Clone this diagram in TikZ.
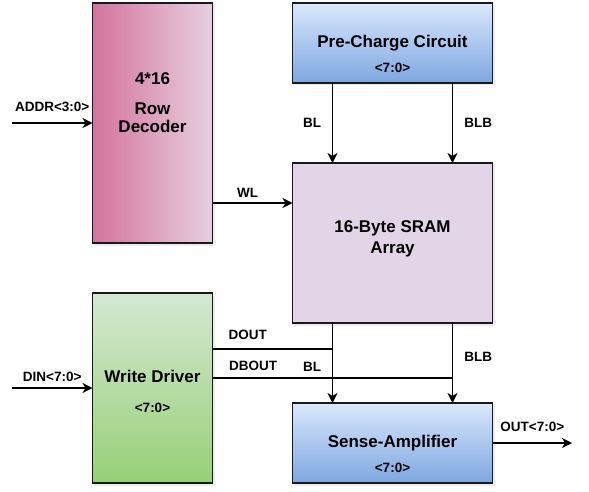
\documentclass[tikz,border=0pt]{standalone}
\usepackage{fontspec}
\setmainfont{Liberation Sans}
\usetikzlibrary{arrows.meta,positioning,shadows,calc}
\usepackage{xcolor}
\definecolor{pinkdark}{HTML}{D5739D}
\definecolor{pinklight}{HTML}{E6D0DE}
\definecolor{bluelight}{HTML}{DAE8FC}
\definecolor{bluedark}{HTML}{7EA6E0}
\definecolor{purplefill}{HTML}{E1D5E7}
\definecolor{greenlight}{HTML}{D5E8D4}
\definecolor{greendark}{HTML}{97D077}

\begin{document}
\begin{tikzpicture}[
            x=1pt, y=1pt,
            block/.style={rectangle, draw=black!90, line width=1.5pt, inner sep=0pt, outer sep=0pt,
                drop shadow={opacity=0.15, shadow xshift=2pt, shadow yshift=-2.5pt}},
            decblock/.style={block, left color=pinkdark, right color=pinklight, minimum width=120pt, minimum height=240pt},
            blueblock/.style={block, top color=bluelight, bottom color=bluedark, minimum width=200pt, minimum height=80pt},
            arrblock/.style={block, fill=purplefill, minimum width=200pt, minimum height=160pt},
            drvblock/.style={block, top color=greenlight, bottom color=greendark, minimum width=120pt, minimum height=190pt},
            title/.style={font=\fontsize{17}{18.5}\selectfont\bfseries, inner sep=0pt, align=center},
            sub/.style={font=\fontsize{13.5}{15}\selectfont\bfseries, inner sep=0pt},
            lbl/.style={font=\fontsize{13.5}{15}\selectfont\bfseries, inner sep=0pt},
            sig/.style={line width=1.6pt, -{Stealth[length=10pt, width=10pt, inset=3pt]}},
            wire/.style={line width=1.6pt}
        ]
            \useasboundingbox (0,0) rectangle (589,-492);

            % --- BLOCOS ---
            \node[decblock, anchor=north west] (decoder) at (92.5,-3) {};
            \node[blueblock, below right=0pt and 80pt of decoder.north east] (precharge) {};
            \node[arrblock, below=80pt of precharge] (sram) {};
            \node[drvblock, below=50pt of decoder] (writedrv) {};
            \node[blueblock, below=80pt of sram] (senseamp) {};

            % --- TEXTOS ---
            \node[title] (decodertext) at ([yshift=20.5pt]decoder.center) {4*16\\[11.5pt]Row\\Decoder};
            \node[title] (prechargetext) at (precharge.center) {Pre-Charge Circuit};
            \node[sub] (prechargebits) at ([yshift=-25.3pt]precharge.center) {<7:0>};
            \node[title] (sramtext) at ([yshift=4.6pt]sram.center) {16-Byte SRAM\\[2.5pt]Array};
            \node[title] (writedrvtext) at ([yshift=11.3pt]writedrv.center) {Write Driver};
            \node[sub] (writedrvbits) at ([yshift=-20.3pt]writedrv.center) {<7:0>};
            \node[title] (senseamptext) at (senseamp.center) {Sense-Amplifier};
            \node[sub] (senseampbits) at ([yshift=-25.3pt]senseamp.center) {<7:0>};

            % --- PONTOS DE LIGACAO ---
            \coordinate (addrin) at ([xshift=-80.5pt]decoder.west);
            \coordinate (wl) at ([yshift=40pt]decoder.south east);
            \coordinate (bltop) at ($(precharge.south west)!0.2!(precharge.south east)$);
            \coordinate (blbtop) at ($(precharge.south west)!0.8!(precharge.south east)$);
            \coordinate (blbot) at ($(sram.south west)!0.2!(sram.south east)$);
            \coordinate (blbbot) at ($(sram.south west)!0.8!(sram.south east)$);
            \coordinate (dout) at ([yshift=-56pt]writedrv.north east);
            \coordinate (dbout) at ([yshift=-85pt]writedrv.north east);
            \coordinate (dinin) at ([xshift=-80.5pt]writedrv.west);
            \coordinate (outend) at ([xshift=79.5pt]senseamp.east);

            % --- LIGACOES ---
            \draw[sig] (addrin) -- node[lbl, above=10.7pt] {ADDR<3:0>} (decoder.west);
            \draw[sig] (wl) -- node[lbl, pos=0.44, above=4.7pt] {WL} (wl -| sram.west);
            \draw[sig] (bltop) -- node[lbl, left=10.5pt] {BL} (bltop |- sram.north);
            \draw[sig] (blbtop) -- node[lbl, right=11pt] {BLB} (blbtop |- sram.north);
            \draw[sig] (blbot) -- node[lbl, pos=0.55, left=10.5pt] {BL} (blbot |- senseamp.north);
            \draw[sig] (blbbot) -- node[lbl, pos=0.42, right=11pt] {BLB} (blbbot |- senseamp.north);
            \draw[wire] (dout) -- node[lbl, pos=0.294, above=8.6pt] {DOUT} (dout -| blbot);
            \draw[wire] (dbout) -- node[lbl, pos=0.169, above=6.6pt] {DBOUT} (dbout -| blbbot);
            \draw[sig] (dinin) -- node[lbl, above=5.7pt] {DIN<7:0>} (writedrv.west);
            \draw[sig] (senseamp.east) -- node[lbl, above=10.9pt] {OUT<7:0>} (outend);

        \end{tikzpicture}
\end{document}
